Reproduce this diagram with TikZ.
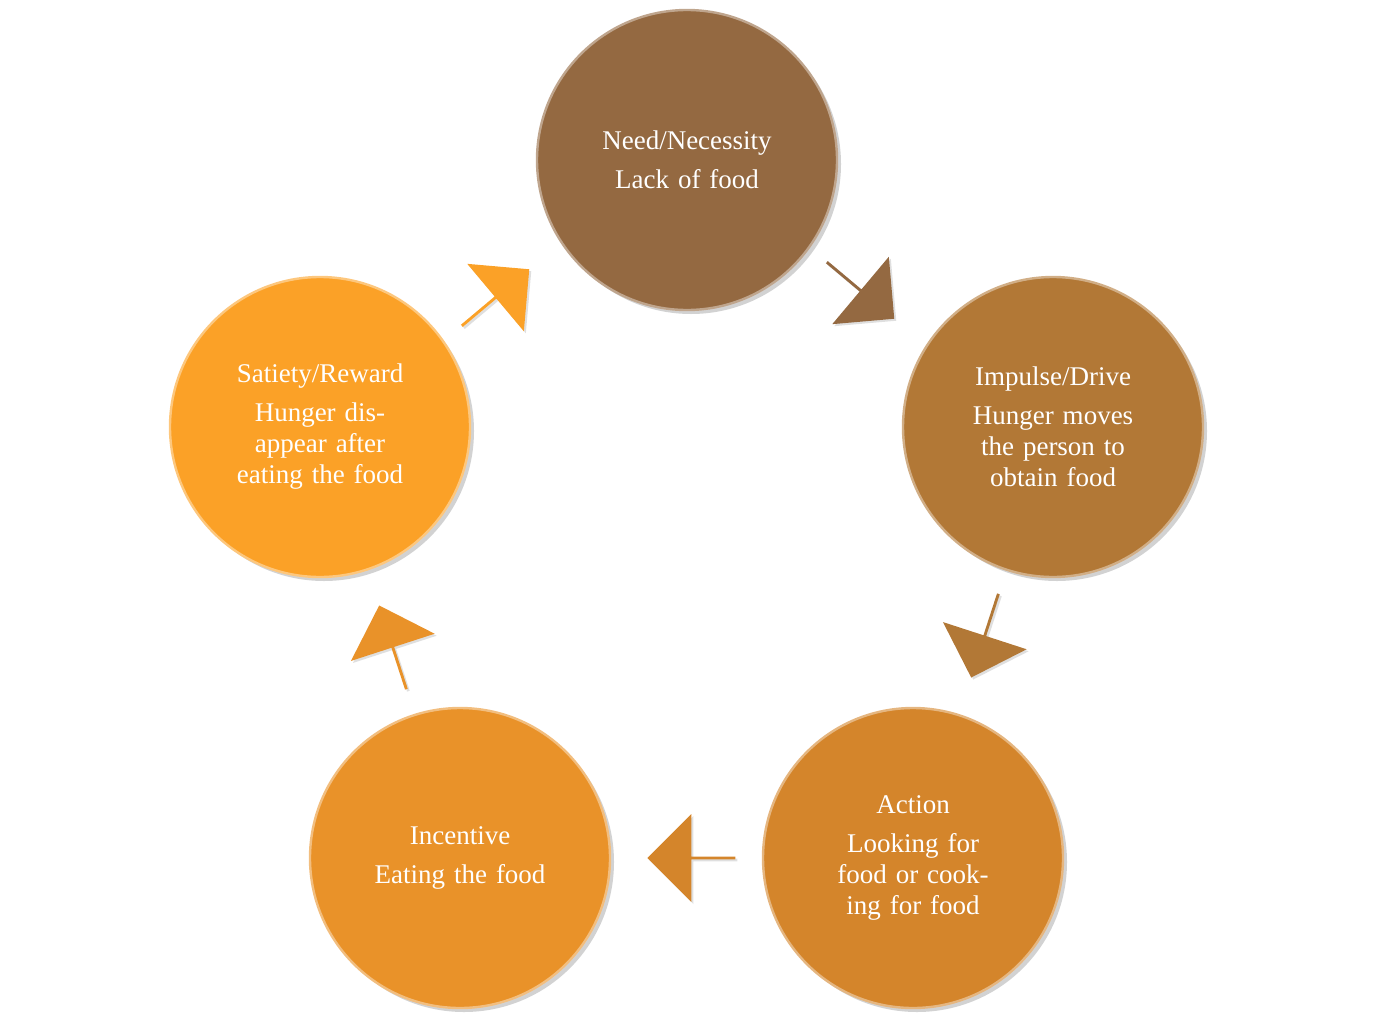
\documentclass[tikz,border=0pt]{standalone}
\usepackage{fontspec}
\setmainfont{Liberation Serif}
\usetikzlibrary{shapes.arrows,shadows}
\definecolor{c1}{HTML}{946941}
\definecolor{c2}{HTML}{B27836}
\definecolor{c3}{HTML}{D4852B}
\definecolor{c4}{HTML}{E99229}
\definecolor{c5}{HTML}{FBA127}
\tikzset{
 circ/.style={circle,minimum size=150pt,inner sep=0pt,fill=#1,draw=#1!60!white,line width=1.2pt,
   text=white,align=center,text width=108pt,font=\fontsize{13.5}{15.5}\selectfont,
   drop shadow={shadow xshift=2pt,shadow yshift=-2pt,fill=black!35}},
 arr/.style={single arrow,fill=#1,minimum height=44pt,minimum width=44pt,single arrow head extend=6pt,inner sep=0pt,
   drop shadow={shadow xshift=1pt,shadow yshift=-1pt,fill=black!25}}
}
\begin{document}
\begin{tikzpicture}[x=0.5pt,y=-0.5pt]
\useasboundingbox (0,0) rectangle (1375,1017);
\node[circ=c1] (need) at (687,160) {Need/Necessity\\[4pt]Lack of food\\[28pt]};
\node[circ=c2] (imp) at (1053,427) {Impulse/Drive\\[4pt]Hunger moves the person to obtain food};
\node[circ=c3] (act) at (913,858) {Action\\[4pt]Looking for food or cooking for food};
\node[circ=c4] (inc) at (460,858) {Incentive\\[4pt]Eating the food\\[8pt]};
\node[circ=c5] (sat) at (320,427) {Satiety/Reward\\[4pt]Hunger disappear after eating the food};
\node[arr=c1,rotate=-40] (a1) at (860,290) {};
\node[arr=c2,rotate=-108] (a2) at (985,635) {};
\node[arr=c3,rotate=180] (a3) at (692,858) {};
\node[arr=c4,rotate=108] (a4) at (393,648) {};
\node[arr=c5,rotate=40] (a5) at (495,298) {};
\end{tikzpicture}
\end{document}
